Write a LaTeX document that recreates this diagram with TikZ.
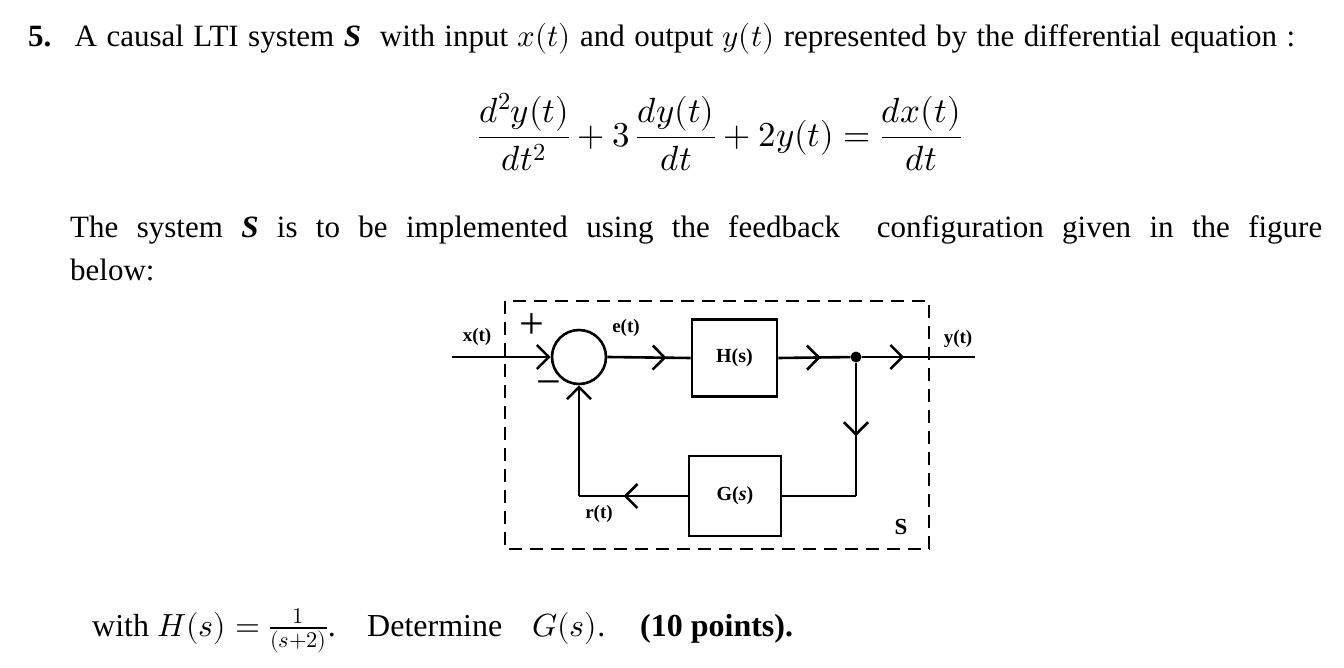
\documentclass[tikz,border=0pt]{standalone}
\usepackage{fontspec}
\usepackage{unicode-math}
\setmainfont{Liberation Serif}
\setmathfont{Latin Modern Math}
\usetikzlibrary{arrows.meta,decorations.markings}
\tikzset{
  wire/.style={line width=2.6pt},
  blk/.style={draw,line width=2.6pt,minimum width=#1,inner sep=0pt},
  chev/.style={postaction={decorate},decoration={markings,mark=at position #1 with {\arrow{Straight Barb[length=12pt,width=24pt,line width=2.6pt]}}}},
  lbl/.style={font=\fontsize{19}{21}\selectfont\bfseries,inner sep=0pt},
  body/.style={font=\fontsize{31}{36}\selectfont,inner sep=0pt,anchor=base west},
  bot/.style={font=\fontsize{32}{36}\selectfont,inner sep=0pt,anchor=base west},
}
\begin{document}
\begin{tikzpicture}[x=1pt,y=-1pt]
\useasboundingbox (0,0) rectangle (1344,668);
% texts
\node[body] (t1) at (28,47) {\makebox[1267pt][s]{\textbf{5.}\hspace{0.75em}A causal LTI system \textbf{\textit{S}}\ \ with input $x(t)$ and output $y(t)$ represented by the differential equation :}};
\node[inner sep=0pt,font=\fontsize{35}{40}\selectfont] (eq) at (720,132) {$\displaystyle \frac{d^2y(t)}{dt^2}+3\,\frac{dy(t)}{dt}+2y(t)=\frac{dx(t)}{dt}$};
\node[body] (t2) at (70,238) {\makebox[1252pt][s]{The system \textbf{\textit{S}} is to be implemented using the feedback\ \ configuration given in the figure}};
\node[body] (t3) at (70,281) {below:};
\node[bot] (t4a) at (92,636) {with};
\node[bot] (t4b) at (157,636) {$H(s)=\frac{1}{(s+2)}$.};
\node[bot] (t4c) at (367,636) {Determine};
\node[bot] (t4d) at (532,636) {$G(s)$.};
\node[bot] (t4e) at (640,636) {\textbf{(10 points).}};
% dashed system box
\draw[line width=2.4pt,dash pattern=on 13pt off 8pt] (505,301) rectangle (929,549);
% blocks
\node[draw,circle,line width=2.6pt,minimum size=54pt,inner sep=0pt] (sum) at (579,357) {};
\node[blk=85pt,minimum height=77pt,font=\fontsize{20}{22}\selectfont\bfseries] (H) at (734.5,358) {H(s)};
\node[blk=92pt,minimum height=80pt,font=\fontsize{20}{22}\selectfont\bfseries] (G) at (735,496) {G(\textit{s})};
\node[circle,fill,inner sep=0pt,minimum size=11pt] (dot) at (856,357) {};
\coordinate (xin) at (452,357);
\coordinate (yout) at (975,357);
\coordinate (rc) at (dot |- G.east);
\coordinate (lc) at (G.west -| sum.south);
% connectors
\draw[wire,-{Straight Barb[length=12pt,width=24pt,line width=2.6pt]}] (xin) -- (sum.west);
\draw[wire,chev=0.71] (sum.east) -- (H.west);
\draw[wire,chev=0.59] (H.east) -- (dot);
\draw[wire,chev=0.375] (dot) -- (yout);
\draw[wire,chev=0.55] (dot) -- (rc);
\draw[wire] (rc) -- (G.east);
\draw[wire,chev=0.59] (G.west) -- (lc);
\draw[wire,-{Straight Barb[length=12pt,width=24pt,line width=2.6pt]}] (lc) -- (sum.south);
% labels
\node[lbl] (lx) at (477,337) {x(t)};
\node[lbl] (le) at (626,328) {e(t)};
\node[lbl] (ly) at (958,339) {y(t)};
\node[lbl] (lr) at (599,514) {r(t)};
\node[font=\fontsize{23}{24}\selectfont\bfseries,inner sep=0pt] (lS) at (901,527) {S};
\node[font=\fontsize{44}{44}\selectfont,inner sep=0pt] (plus) at (532,326) {+};
\node[font=\fontsize{44}{44}\selectfont,inner sep=0pt] (minus) at (549,389) {−};
\end{tikzpicture}
\end{document}
